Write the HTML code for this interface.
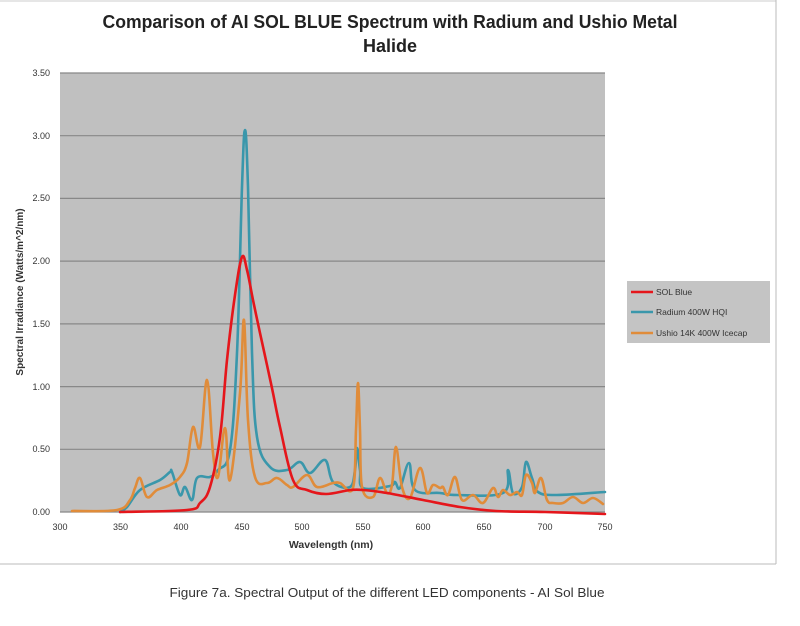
<!DOCTYPE html>
<html><head><meta charset="utf-8"><style>
body{margin:0;background:#fff;width:800px;height:621px;overflow:hidden;font-family:"Liberation Sans",sans-serif}
</style></head><body>
<svg id="s" width="800" height="621" viewBox="0 0 800 621" xmlns="http://www.w3.org/2000/svg" font-family="Liberation Sans, sans-serif">
<line x1="0" y1="1" x2="776" y2="1" stroke="#ccc"/>
<line x1="776" y1="0" x2="776" y2="564" stroke="#bbb"/>
<line x1="0" y1="564" x2="776" y2="564" stroke="#bbb"/>
<text x="390" y="28" font-size="18" font-weight="bold" text-anchor="middle" fill="#222" textLength="575" lengthAdjust="spacingAndGlyphs">Comparison of AI SOL BLUE Spectrum with Radium and Ushio Metal</text>
<text x="390" y="52" font-size="18" font-weight="bold" text-anchor="middle" fill="#222">Halide</text>
<rect x="60" y="73" width="545" height="439" fill="#c0c0c0"/>
<g stroke="#888" stroke-width="1.2">
<line x1="60" y1="73" x2="605" y2="73"/><line x1="60" y1="135.7" x2="605" y2="135.7"/>
<line x1="60" y1="198.4" x2="605" y2="198.4"/><line x1="60" y1="261.1" x2="605" y2="261.1"/>
<line x1="60" y1="323.9" x2="605" y2="323.9"/><line x1="60" y1="386.6" x2="605" y2="386.6"/>
<line x1="60" y1="449.3" x2="605" y2="449.3"/><line x1="60" y1="512" x2="605" y2="512"/>
</g>
<g font-size="9" fill="#333" text-anchor="end">
<text x="50" y="76">3.50</text><text x="50" y="139">3.00</text><text x="50" y="201">2.50</text>
<text x="50" y="264">2.00</text><text x="50" y="327">1.50</text><text x="50" y="390">1.00</text>
<text x="50" y="452">0.50</text><text x="50" y="515">0.00</text>
</g>
<g font-size="9" fill="#333" text-anchor="middle">
<text x="60" y="530">300</text><text x="120.5" y="530">350</text><text x="181" y="530">400</text>
<text x="242" y="530">450</text><text x="302" y="530">500</text><text x="363" y="530">550</text>
<text x="423" y="530">600</text><text x="484" y="530">650</text><text x="545" y="530">700</text><text x="605" y="530">750</text>
</g>
<text x="331" y="548" font-size="10.5" font-weight="bold" text-anchor="middle" fill="#333">Wavelength (nm)</text>
<text transform="translate(23,292) rotate(-90)" font-size="10" font-weight="bold" text-anchor="middle" fill="#333">Spectral Irradiance (Watts/m^2/nm)</text>
<g fill="none" stroke-width="2.6" stroke-linejoin="round" stroke-linecap="round">
<polyline class="c" stroke="#3a97ab" points="120,512 127,507 140,490 160,480 170,472 172,472 180,495 185,487 192,500 197,478 210,477 218,470 230,450 237,353 242,187 245,130 248,187 252,353 257,437 270,467 287,470 300,462 310,473 325,460 333,482 350,487 355,470 357,448 360,470 363,488 390,486 395,482 400,488 409,463 415,490 440,493 457,495 503,493 508,470 513,493 522,487 526,462 532,478 538,492 557,495 605,492"/>
<polyline class="c" stroke="#e08c3a" points="72,511 117,510 130,500 135,488 140,478 147,497 157,490 170,485 180,477 187,463 193,427 200,447 207,380 213,453 218,477 225,428 230,480 240,393 244,320 248,420 255,477 267,483 277,478 287,485 293,487 307,475 317,487 333,483 340,483 353,488 356,430 358,383 360,430 362,487 373,497 380,478 387,493 392,485 396,447 402,487 410,498 420,468 427,493 433,485 440,488 443,487 448,495 455,477 462,500 473,495 483,503 493,488 498,497 503,490 510,495 517,492 522,495 526,475 532,483 535,493 541,478 547,500 553,503 563,503 573,497 583,503 593,498 603,504"/>
<polyline class="c" stroke="#e5161b" points="120,512 187,510 200,503 210,487 220,437 227,360 235,295 242,257 247,270 253,300 260,333 267,365 273,393 280,427 293,480 307,490 326,494 350,490 363,490 387,493 423,500 460,507 496,511 545,512 605,514"/>
</g>
<rect x="627" y="281" width="143" height="62" fill="#c4c4c4"/>
<line x1="631" y1="292" x2="653" y2="292" stroke="#e5161b" stroke-width="2.5"/>
<line x1="631" y1="312" x2="653" y2="312" stroke="#3a97ab" stroke-width="2.5"/>
<line x1="631" y1="333" x2="653" y2="333" stroke="#e08c3a" stroke-width="2.5"/>
<g font-size="8.5" fill="#333">
<text x="656" y="295">SOL Blue</text><text x="656" y="315">Radium 400W HQI</text><text x="656" y="336">Ushio 14K 400W Icecap</text>
</g>
<text x="387" y="597" font-size="13" fill="#333" text-anchor="middle" textLength="435" lengthAdjust="spacingAndGlyphs">Figure 7a. Spectral Output of the different LED components - AI Sol Blue</text>
</svg>
<script>
document.querySelectorAll('polyline.c').forEach(function(pl){
  var p=pl.getAttribute('points').trim().split(/\s+/).map(function(s){return s.split(',').map(Number);});
  var d='M'+p[0][0]+','+p[0][1];
  for(var i=0;i<p.length-1;i++){
    var p0=p[i-1]||p[i],p1=p[i],p2=p[i+1],p3=p[i+2]||p2,t=0.18;
    var c1x=p1[0]+(p2[0]-p0[0])*t,c1y=p1[1]+(p2[1]-p0[1])*t;
    var c2x=p2[0]-(p3[0]-p1[0])*t,c2y=p2[1]-(p3[1]-p1[1])*t;
    d+=' C'+c1x.toFixed(1)+','+c1y.toFixed(1)+' '+c2x.toFixed(1)+','+c2y.toFixed(1)+' '+p2[0]+','+p2[1];
  }
  var path=document.createElementNS('http://www.w3.org/2000/svg','path');
  path.setAttribute('d',d);path.setAttribute('stroke',pl.getAttribute('stroke'));
  pl.parentNode.replaceChild(path,pl);
});
</script>
</body></html>
